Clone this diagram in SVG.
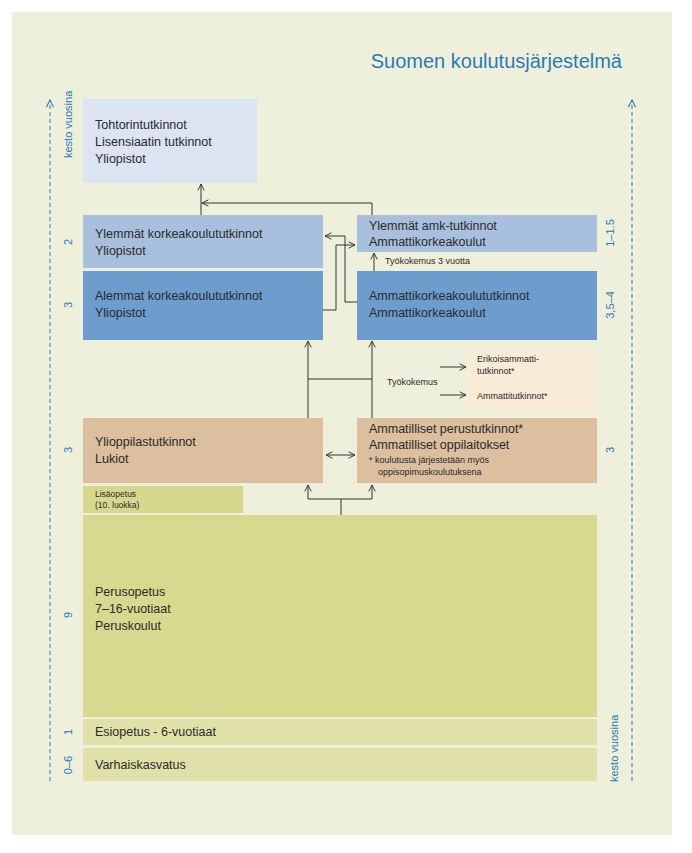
<svg xmlns="http://www.w3.org/2000/svg" width="692" height="853" viewBox="0 0 692 853">
<style>
text{font-family:"Liberation Sans",Arial,sans-serif;fill:#2a2a2a}
.t{font-size:12.5px}
.s{font-size:9px}
.n{font-size:11px;fill:#2a7ab8}
.c{fill:none;stroke:#333;stroke-width:1}
.ax{stroke:#2a7ab8;stroke-width:1;stroke-dasharray:4,3;fill:none}
</style>
<defs>
<marker id="a" viewBox="0 0 10 10" refX="9" refY="5" markerWidth="8" markerHeight="8" orient="auto-start-reverse" markerUnits="userSpaceOnUse"><path d="M1,1 L9,5 L1,9" fill="none" stroke="#333" stroke-width="1.2"/></marker>
<marker id="b" viewBox="0 0 10 10" refX="9" refY="5" markerWidth="9" markerHeight="9" orient="auto" markerUnits="userSpaceOnUse"><path d="M1,1 L9,5 L1,9" fill="none" stroke="#2a7ab8" stroke-width="1.2"/></marker>
</defs>
<rect width="692" height="853" fill="#fff"/>
<rect x="12" y="12" width="660" height="823" fill="#eff0dc"/>
<text x="622" y="68" text-anchor="end" style="font-size:20px;fill:#2a7ab8">Suomen koulutusjärjestelmä</text>
<g id="axes">
<line class="ax" x1="50" y1="781" x2="50" y2="100" marker-end="url(#b)"/>
<line class="ax" x1="632" y1="781" x2="632" y2="100" marker-end="url(#b)"/>
<text class="n" transform="translate(72,158) rotate(-90)">kesto vuosina</text>
<text class="n" transform="translate(618,782) rotate(-90)">kesto vuosina</text>
<text class="n" transform="translate(72,242) rotate(-90)" text-anchor="middle">2</text>
<text class="n" transform="translate(72,305) rotate(-90)" text-anchor="middle">3</text>
<text class="n" transform="translate(72,450) rotate(-90)" text-anchor="middle">3</text>
<text class="n" transform="translate(72,615) rotate(-90)" text-anchor="middle">9</text>
<text class="n" transform="translate(72,732) rotate(-90)" text-anchor="middle">1</text>
<text class="n" transform="translate(72,765) rotate(-90)" text-anchor="middle">0–6</text>
<text class="n" transform="translate(614,233) rotate(-90)" text-anchor="middle">1–1.5</text>
<text class="n" transform="translate(614,305) rotate(-90)" text-anchor="middle">3,5–4</text>
<text class="n" transform="translate(614,450) rotate(-90)" text-anchor="middle">3</text>
</g>
<g id="tohtori"><rect x="83" y="99" width="174" height="84" fill="#dce3f1"/>
<text class="t" x="95" y="129">Tohtorintutkinnot</text><text class="t" x="95" y="146">Lisensiaatin tutkinnot</text><text class="t" x="95" y="163">Yliopistot</text></g>
<g id="ylemmat"><rect x="83" y="215" width="240" height="53" fill="#a8bfde"/>
<text class="t" x="95" y="238">Ylemmät korkeakoulututkinnot</text><text class="t" x="95" y="255">Yliopistot</text></g>
<g id="alemmat"><rect x="83" y="271" width="240" height="69" fill="#6c9dce"/>
<text class="t" x="95" y="300">Alemmat korkeakoulututkinnot</text><text class="t" x="95" y="317">Yliopistot</text></g>
<g id="amk-ylempi"><rect x="357" y="215" width="240" height="37" fill="#a8bfde"/>
<text class="t" x="369" y="230">Ylemmät amk-tutkinnot</text><text class="t" x="369" y="246">Ammattikorkeakoulut</text></g>
<g id="amk"><rect x="357" y="271" width="240" height="69" fill="#6c9dce"/>
<text class="t" x="369" y="300">Ammattikorkeakoulututkinnot</text><text class="t" x="369" y="317">Ammattikorkeakoulut</text></g>
<g id="erikois"><rect x="467" y="350" width="130" height="62" fill="#f8ecd6"/>
<text class="s" x="477" y="362">Erikoisammatti-</text><text class="s" x="477" y="374">tutkinnot*</text><text class="s" x="477" y="399">Ammattitutkinnot*</text></g>
<g id="lukio"><rect x="83" y="418" width="240" height="65" fill="#dcbf9e"/>
<text class="t" x="95" y="446">Ylioppilastutkinnot</text><text class="t" x="95" y="463">Lukiot</text></g>
<g id="ammatilliset"><rect x="357" y="418" width="240" height="65" fill="#dcbf9e"/>
<text class="t" x="369" y="433">Ammatilliset perustutkinnot*</text><text class="t" x="369" y="449">Ammatilliset oppilaitokset</text>
<text class="s" x="369" y="463">*  koulutusta järjestetään myös</text><text class="s" x="378" y="475">oppisopimuskoulutuksena</text></g>
<g id="lisaopetus"><rect x="83" y="486" width="160" height="27" fill="#d6d88e"/>
<text x="95" y="497" style="font-size:8.5px">Lisäopetus</text><text x="95" y="508" style="font-size:8.5px">(10. luokka)</text></g>
<g id="perusopetus"><rect x="83" y="515" width="514" height="202" fill="#d7d98e"/>
<line x1="83" y1="514" x2="243" y2="514" stroke="#eef0d8" stroke-dasharray="4,3"/>
<text class="t" x="95" y="596">Perusopetus</text><text class="t" x="95" y="613">7–16-vuotiaat</text><text class="t" x="95" y="630">Peruskoulut</text></g>
<g id="esiopetus"><rect x="83" y="719" width="514" height="26" fill="#e0e1a8"/>
<text class="t" x="95" y="736">Esiopetus - 6-vuotiaat</text></g>
<g id="varhais"><rect x="83" y="748" width="514" height="33" fill="#e0e1a8"/>
<text class="t" x="95" y="769">Varhaiskasvatus</text></g>
<g id="connectors">
<path class="c" d="M201,215 V184" marker-end="url(#a)"/>
<path class="c" d="M372,215 V203 H202" marker-end="url(#a)"/>
<path class="c" d="M357,302 H345 V236 H325" marker-end="url(#a)"/>
<path class="c" d="M323,310 H336 V245 H355" marker-end="url(#a)"/>
<path class="c" d="M374,271 V253" marker-end="url(#a)"/>
<text class="s" x="385" y="264">Työkokemus 3 vuotta</text>
<path class="c" d="M308,418 V341" marker-end="url(#a)"/>
<path class="c" d="M372,418 V341" marker-end="url(#a)"/>
<path class="c" d="M308,379 H372"/>
<text class="s" x="387" y="385">Työkokemus</text>
<path class="c" d="M440,367 H466" marker-end="url(#a)"/>
<path class="c" d="M440,395 H466" marker-end="url(#a)"/>
<path class="c" d="M326,455 H355" marker-start="url(#a)" marker-end="url(#a)"/>
<path class="c" d="M341,515 V499"/>
<path class="c" d="M308,499 H372"/>
<path class="c" d="M308,499 V485" marker-end="url(#a)"/>
<path class="c" d="M372,499 V485" marker-end="url(#a)"/>
</g>
</svg>
